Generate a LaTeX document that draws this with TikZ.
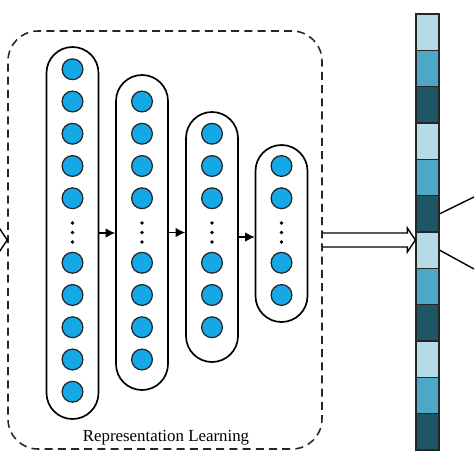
\documentclass[tikz,border=0pt]{standalone}
\usepackage{fontspec}
\setmainfont{Liberation Serif}
\usetikzlibrary{arrows.meta,positioning,calc}
\definecolor{unitblue}{RGB}{20,168,230}
\definecolor{celllight}{RGB}{180,219,230}
\definecolor{cellmid}{RGB}{76,168,196}
\definecolor{celldark}{RGB}{31,86,102}
\tikzset{
  unit/.style={circle, draw=black!85, fill=unitblue, line width=0.9pt, minimum size=5.2mm, inner sep=0pt},
  layer/.style={draw=black, line width=1.2pt, rounded corners=6.5mm, minimum width=13mm, inner sep=0pt},
  dot/.style={circle, fill=black, minimum size=0.9mm, inner sep=0pt},
  group/.style={draw=black!85, line width=1.1pt, dash pattern=on 2mm off 1.3mm, rounded corners=7.5mm, minimum width=78.5mm, minimum height=104.5mm, inner sep=0pt},
  cell/.style={draw=black!85, line width=0.9pt, minimum width=5.75mm, minimum height=9.08mm, inner sep=0pt},
  arrow/.style={-{Latex[length=2.4mm, width=2.4mm]}, thick},
  hollow/.style={line width=1pt, line join=miter},
  outline/.style={line width=1pt}
}

\begin{document}
\begin{tikzpicture}[x=0.25mm, y=-0.25mm]
  \clip (0,0) rectangle (474,474);
  % representation learning block
  \node[group] (rl) at (165,240) {};
  \node[layer, minimum height=93mm] (l1) at (72.5,233) {};
  \node[layer, minimum height=78.75mm] (l2) at (142,232.5) {};
  \node[layer, minimum height=62.5mm] (l3) at (212,237) {};
  \node[layer, minimum height=44.25mm] (l4) at (281.5,233.5) {};
  \foreach \c/\x/\n in {1/72.5/5, 2/142/4, 3/212/3, 4/281.5/2}{
    \foreach \i in {1,...,\n}{
      \node[unit] (u\c-t\i) at (\x,230.5-32.25*\i) {};
      \node[unit] (u\c-b\i) at (\x,230.5+32.25*\i) {};
    }
    \foreach \d [count=\k] in {223,232.5,242}
      \node[dot] (d\c-\k) at (\x,\d) {};
  }
  \draw[arrow] (l1.east) -- (l2.west |- l1.east);
  \draw[arrow] (l2.east) -- (l3.west |- l2.east);
  \draw[arrow] (l3.east) -- (l4.west |- l3.east);
  \node[font=\fontsize{12}{14}\selectfont, anchor=base] (rltext) at (166,441) {Representation Learning};

  % feature vector
  \foreach \k in {0,...,3}
    \foreach \j/\col in {1/celllight, 2/cellmid, 3/celldark}{
      \pgfmathtruncatemacro{\i}{3*\k+\j}
      \node[cell, fill=\col] (v\i) at (427.5,14+36.33*\i-18.17) {};
    }

  % hollow arrows
  \coordinate (src) at (-40,240);
  \coordinate (tip) at (v7.west |- rl.east);
  \draw[hollow] ($(src)+(0,-7)$) -- ($(rl.west)+(-8,-7)$) -- ++(0,-5)
    -- (rl.west) -- ++(-8,12) -- ++(0,-5) -- ($(src)+(0,7)$);
  \draw[hollow] ($(rl.east)+(0,-7)$) -- ($(tip)+(-8,-7)$) -- ++(0,-5)
    -- (tip) -- ++(-8,12) -- ++(0,-5) -- ($(rl.east)+(0,7)$);

  \coordinate (outA) at (474,197);
  \coordinate (outB) at (474,269);
  \draw[outline] (v6.east) -- (outA);
  \draw[outline] (v7.east) -- (outB);
\end{tikzpicture}
\end{document}
